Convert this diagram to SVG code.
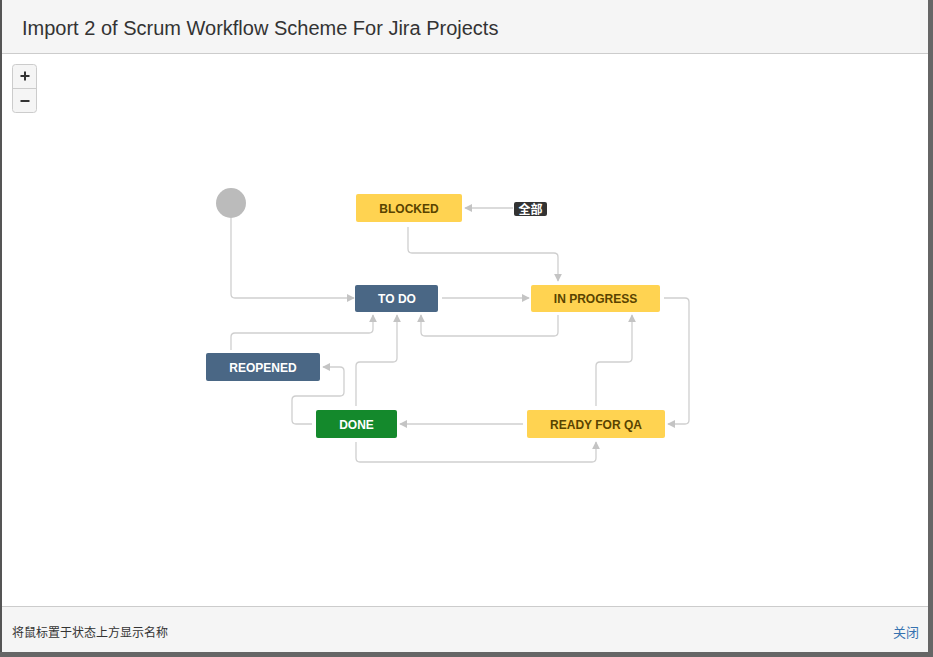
<svg xmlns="http://www.w3.org/2000/svg" width="933" height="657" viewBox="0 0 933 657">
<defs>
<marker id="ah" viewBox="0 0 10 10" refX="9" refY="5" markerWidth="8" markerHeight="8" markerUnits="userSpaceOnUse" orient="auto">
<path d="M0,0 L10,5 L0,10 z" fill="#c4c4c4"/>
</marker>
<style>
.conn path{fill:none;stroke:#cfcfcf;stroke-width:1.3;marker-end:url(#ah)}
.lbl{font-family:"Liberation Sans",Arial,sans-serif;font-size:12px;font-weight:bold;text-anchor:middle}
.yel rect{fill:#ffd351}
.yel text{fill:#594300}
.blu rect{fill:#4a6785}
.blu text{fill:#ffffff}
.grn rect{fill:#14892c}
.grn text{fill:#ffffff}
</style>
</defs>
<rect x="0" y="0" width="933" height="657" fill="#ffffff"/>
<rect x="0" y="0" width="929" height="53" fill="#f5f5f5"/>
<line x1="0" y1="53.5" x2="929" y2="53.5" stroke="#cccccc"/>
<text x="22" y="35" font-family="Liberation Sans,Arial,sans-serif" font-size="20" fill="#333333">Import 2 of Scrum Workflow Scheme For Jira Projects</text>
<g id="zoom">
<rect x="12.5" y="64.5" width="24" height="48" rx="3" fill="#f5f5f5" stroke="#cccccc"/>
<line x1="12.5" y1="88.5" x2="36.5" y2="88.5" stroke="#cccccc"/>
<path d="M20.5,76 h9 M25,71.5 v9" stroke="#333" stroke-width="2"/>
<path d="M20.5,101 h9" stroke="#333" stroke-width="2"/>
</g>
<rect x="0" y="606" width="929" height="47" fill="#f5f5f5"/>
<line x1="0" y1="606.5" x2="929" y2="606.5" stroke="#cccccc"/>
<text x="12" y="637" font-family="Liberation Sans,'Noto Sans CJK SC',sans-serif" font-size="12" fill="#333333">将鼠标置于状态上方显示名称</text>
<text x="893" y="637" font-family="Liberation Sans,'Noto Sans CJK SC',sans-serif" font-size="13" fill="#3572b0">关闭</text>
<rect x="0" y="0" width="2" height="657" fill="#555"/>
<rect x="928" y="0" width="5" height="657" fill="#666"/>
<rect x="0" y="652" width="933" height="5" fill="#666"/>
<g id="connectors" class="conn">
<path d="M231,218 V294 Q231,298 235,298 H354"/>
<path d="M408,227 V249 Q408,253 412,253 H554 Q558,253 558,257 V281"/>
<path d="M442,298 H529"/>
<path d="M558,315 V332 Q558,336 554,336 H425 Q421,336 421,332 V315"/>
<path d="M231,350 V337 Q231,333 235,333 H369 Q373,333 373,329 V315"/>
<path d="M356,406 V366 Q356,362 360,362 H393 Q397,362 397,358 V315"/>
<path d="M664,298 H685 Q689,298 689,302 V420 Q689,424 685,424 H668"/>
<path d="M523,424 H400"/>
<path d="M596,406 V366 Q596,362 600,362 H628 Q632,362 632,358 V315"/>
<path d="M356,442 V458 Q356,462 360,462 H592 Q596,462 596,458 V442"/>
<path d="M312,424 H296 Q292,424 292,420 V400 Q292,396 296,396 H340 Q344,396 344,392 V371 Q344,367 340,367 H323"/>
<path d="M513,208 H465"/>
</g>
<g id="start"><circle cx="231" cy="203" r="15" fill="#bbbbbb"/></g>
<g id="all"><rect x="514" y="202" width="33" height="14" rx="2" fill="#333333"/><text x="530.5" y="213.5" font-family="Liberation Sans,'Noto Sans CJK SC',sans-serif" font-size="12" font-weight="bold" fill="#ffffff" text-anchor="middle">全部</text></g>
<g id="blocked" class="yel"><rect x="356" y="194" width="106" height="28" rx="2"/><text class="lbl" x="409" y="212.5">BLOCKED</text></g>
<g id="todo" class="blu"><rect x="355" y="285" width="83" height="27" rx="2"/><text class="lbl" x="397" y="302.5">TO DO</text></g>
<g id="inprogress" class="yel"><rect x="531" y="285" width="129" height="27" rx="2"/><text class="lbl" x="595.5" y="302.5">IN PROGRESS</text></g>
<g id="reopened" class="blu"><rect x="206" y="353" width="114" height="28" rx="2"/><text class="lbl" x="263" y="371.5">REOPENED</text></g>
<g id="done" class="grn"><rect x="316" y="410" width="81" height="28" rx="2"/><text class="lbl" x="356.5" y="428.5">DONE</text></g>
<g id="readyforqa" class="yel"><rect x="527" y="410" width="138" height="28" rx="2"/><text class="lbl" x="596" y="428.5">READY FOR QA</text></g>
</svg>
